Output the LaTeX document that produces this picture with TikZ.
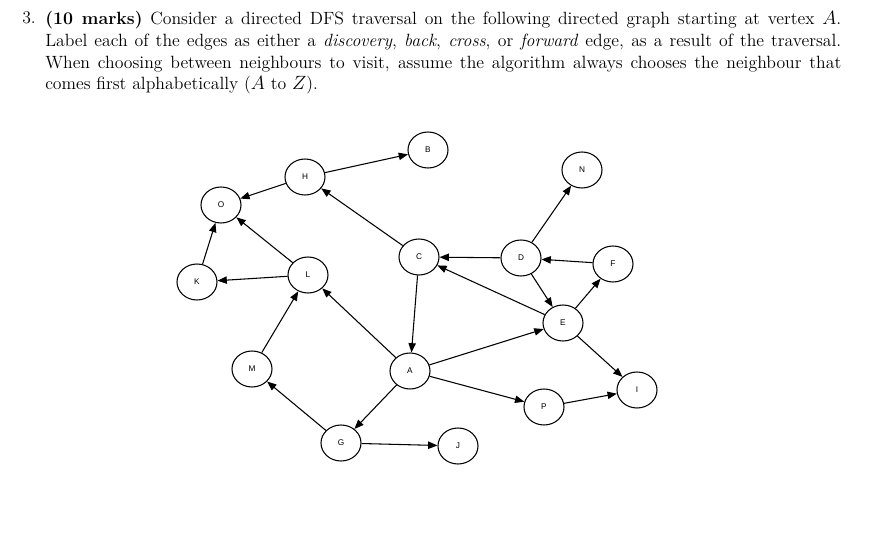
\documentclass[tikz,border=0pt]{standalone}
\usepackage{fontspec}
\newfontfamily\lab{Liberation Sans}
\usetikzlibrary{shapes.geometric,arrows.meta}
\begin{document}
\begin{tikzpicture}[x=0.75pt,y=-0.75pt,
  vtx/.style={ellipse,draw,thick,minimum width=30pt,minimum height=27pt,inner sep=0pt,font=\lab\fontsize{6.2}{7}\selectfont},
  arr/.style={thick,-{Triangle[length=7pt,width=5.5pt]}}]
\useasboundingbox (0,0) rectangle (890,548);
\node[anchor=north west,inner sep=0pt,font=\fontsize{13.3}{16.3}\selectfont] (num) at (22,11) {3.};
\node[anchor=north west,inner sep=0pt,text width=597pt,align=justify,font=\fontsize{13.3}{16.3}\selectfont] (txt) at (45,11)
{\textbf{(10 marks)} Consider a directed DFS traversal on the following directed graph starting at vertex $A$.\linebreak Label each of the edges as either a \textit{discovery}, \textit{back}, \textit{cross}, or \textit{forward} edge, as a result of the traversal.\linebreak When choosing between neighbours to visit, assume the algorithm always chooses the neighbour that\linebreak comes first alphabetically ($A$ to $Z$).};
\node[vtx] (B) at (428,150) {B};
\node[vtx] (H) at (305,177) {H};
\node[vtx] (N) at (582,170) {N};
\node[vtx] (O) at (221,205) {O};
\node[vtx] (C) at (419,257) {C};
\node[vtx] (D) at (521,258) {D};
\node[vtx] (F) at (613,264) {F};
\node[vtx] (K) at (197,282) {K};
\node[vtx] (L) at (308,275) {L};
\node[vtx] (E) at (563,323) {E};
\node[vtx] (M) at (252,369) {M};
\node[vtx] (A) at (410,371) {A};
\node[vtx] (I) at (637,390) {I};
\node[vtx] (P) at (544,407) {P};
\node[vtx] (G) at (341,443) {G};
\node[vtx] (J) at (458,446) {J};
\draw[arr] (H) -- (B);
\draw[arr] (H) -- (O);
\draw[arr] (K) -- (O);
\draw[arr] (L) -- (O);
\draw[arr] (L) -- (K);
\draw[arr] (C) -- (H);
\draw[arr] (D) -- (C);
\draw[arr] (D) -- (N);
\draw[arr] (F) -- (D);
\draw[arr] (D) -- (E);
\draw[arr] (E) -- (F);
\draw[arr] (E) -- (C);
\draw[arr] (C) -- (A);
\draw[arr] (A) -- (E);
\draw[arr] (A) -- (L);
\draw[arr] (A) -- (G);
\draw[arr] (A) -- (P);
\draw[arr] (P) -- (I);
\draw[arr] (E) -- (I);
\draw[arr] (M) -- (L);
\draw[arr] (G) -- (M);
\draw[arr] (G) -- (J);
\end{tikzpicture}
\end{document}
